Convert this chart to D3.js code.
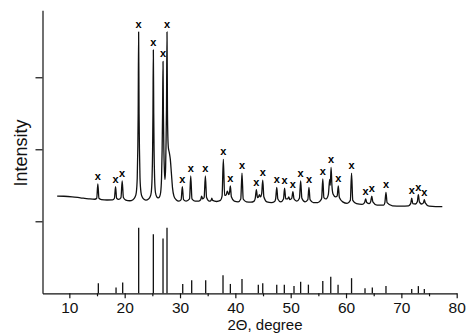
<!DOCTYPE html>
<html>
<head>
<meta charset="utf-8">
<script src="https://cdn.jsdelivr.net/npm/d3@7"></script>
<style>
  html, body { margin: 0; padding: 0; background: #fff; }
  svg { display: block; font-family: "Liberation Sans", Arial, sans-serif; }
</style>
</head>
<body>
<div id="chart"></div>
<script>
const trace = [
  [7.8,135],[9,134.8],[10.5,134],[12,132.6],[13.5,131.2],[14.6,130.6],
  [14.95,132],[15.15,152],[15.35,132],
  [15.8,130.2],[16.8,129.6],[17.8,129.8],
  [18.15,132],[18.35,148],[18.55,132],[18.9,130.5],
  [19.33,133],[19.55,156],[19.77,133],
  [20.2,129.5],[20.9,128.5],[21.5,130],[21.9,134],[22.1,140],[22.27,160],[22.37,200],[22.44,250],
  [22.52,363],[22.6,250],[22.67,200],[22.77,160],[22.95,140],[23.15,134],[23.5,130.5],[23.85,129.5],
  [24.3,131],[24.6,134],[24.8,140],[24.95,160],[25.05,200],[25.11,250],
  [25.18,338],[25.25,250],[25.31,200],[25.41,160],[25.56,140],[25.8,134],[26.05,132.5],
  [26.3,134],[26.5,140],[26.66,160],[26.77,200],[26.85,250],
  [26.93,322],[27.0,250],[27.08,200],[27.18,170],[27.29,158],[27.4,175],[27.48,210],[27.56,260],
  [27.65,363],[27.73,255],[27.8,218],[27.9,202],[28.05,196],[28.25,186],[28.45,166],[28.65,146],
  [28.9,135],[29.3,130],[29.8,128],
  [30.2,130],[30.42,148],[30.64,130],
  [31.1,128],[31.72,131],[31.94,163],[32.16,131],
  [32.7,128],[33.4,128],[33.75,130],[33.9,135],[34.1,131],
  [34.36,133],[34.58,163],[34.8,133],
  [35.3,128],[35.6,129],[35.75,132],[35.9,129],[36.6,127.5],
  [37.3,129],[37.6,135],[37.83,186],[38.06,136],
  [38.35,137],[38.55,142],[38.8,137],
  [38.95,140],[39.1,149],[39.28,134],
  [39.8,128],[40.5,127],
  [40.98,131],[41.2,167],[41.42,131],
  [42,127],[42.8,126.5],[43.4,128],
  [43.6,132],[43.8,144],[44.0,133],
  [44.2,134],[44.35,137],[44.55,134],
  [44.75,138],[44.95,157],[45.15,134],
  [45.7,127],[46.5,126],[47.1,127.5],
  [47.28,131],[47.48,147],[47.68,131],
  [48.2,127],[48.7,131],[48.9,146],[49.1,131],
  [49.45,131],[49.65,134],[49.85,130],
  [50.2,132],[50.4,141],[50.6,131],
  [51.1,128],[51.58,132],[51.8,156],[52.02,132],
  [52.6,127],[53.1,130],[53.3,147],[53.5,130],
  [54.1,126],[54.9,126],[55.5,130],[55.6,132],[55.8,159],[56.0,133],
  [56.4,131],[56.8,137],[57.05,158],[57.15,150],[57.3,175],[57.45,150],[57.65,138],
  [58.1,134],[58.4,135],[58.6,149],[58.8,133],
  [59.4,127],[60.2,125],[60.78,129],[61.0,167],[61.22,129],
  [61.9,124.5],[62.9,123.5],
  [63.35,126],[63.55,131],[63.75,126],
  [64.2,124.5],[64.45,127],[64.65,135],[64.85,127],
  [65.6,122.5],[66.8,122.5],[67.02,126],[67.22,140],[67.42,126],
  [68.4,121.5],[70,121],[71.3,121.5],
  [71.68,124.5],[71.87,132],[72.06,124.5],
  [72.55,124],[72.88,127],[73.07,137],[73.26,127],
  [73.65,124],[73.98,125.5],[74.15,130],[74.32,125.5],
  [75.0,121],[76.2,120.5],[77.4,120.5]
];

// peaks marked with "x"
const marked = [15.15,18.35,19.55,22.52,25.18,26.93,27.65,30.42,31.94,34.58,37.83,39.1,41.2,
  43.8,44.95,47.48,48.9,50.4,51.8,53.3,55.8,57.3,58.6,61.0,63.55,64.65,67.22,71.87,73.07,74.15];

// reference pattern (stick lines)
const refPos = [15.24,18.44,19.64,22.53,25.18,26.93,27.65,30.49,32.11,34.64,37.77,39.1,41.2,
  44.15,44.95,47.48,48.85,50.6,51.8,53.2,55.8,57.24,58.56,61.0,63.43,64.75,67.22,71.87,73.07,74.15];
const refInt = [14,8,15,91,82,76,91,13,18,18,25,13,20,
  12,14,12,12,10,16,12,17,23,12,21,7,8,10,6,10,6];

const majorTicks = [10,20,30,40,50,60,70,80];
const minorTicks = [15,25,35,45,55,65,75];
const yTicks = [100,200,300];

const W = 474, H = 333;

const x = d3.scaleLinear().domain([5.15, 80]).range([42.5, 456.7]);
const y = d3.scaleLinear().domain([0, 393]).range([293.3, 10.3]);

const svg = d3.select("#chart").append("svg")
  .attr("width", W)
  .attr("height", H);

// x axis, major ticks with labels
const xAxis = svg.append("g")
  .attr("transform", "translate(0," + y(0) + ")")
  .call(d3.axisBottom(x).tickValues(majorTicks).tickSize(5).tickSizeOuter(0).tickPadding(3.5));
xAxis.selectAll("text")
  .attr("fill", "#111")
  .style("font-size", "15.5px")
  .style("font-family", "'Liberation Sans', Arial, sans-serif");

// minor ticks at the fives
svg.append("g")
  .attr("transform", "translate(0," + y(0) + ")")
  .call(d3.axisBottom(x).tickValues(minorTicks).tickSize(3).tickSizeOuter(0).tickFormat(""))
  .select(".domain").remove();

// y axis, ticks only
svg.append("g")
  .attr("transform", "translate(" + x(5.15) + ",0)")
  .call(d3.axisLeft(y).tickValues(yTicks).tickSize(7).tickSizeOuter(0).tickFormat(""));

svg.selectAll(".domain, .tick line")
  .attr("stroke", "#111")
  .attr("stroke-width", 1.2);

// measured curve
const line = d3.line()
  .x(d => x(d[0]))
  .y(d => y(d[1]))
  .curve(d3.curveMonotoneX);

svg.append("path")
  .datum(trace)
  .attr("fill", "none")
  .attr("stroke", "#111")
  .attr("stroke-width", 1.3)
  .attr("stroke-linejoin", "round")
  .attr("d", line);

// x markers above peaks
const topOf = p => trace.find(d => d[0] === p)[1];
svg.selectAll("text.mark")
  .data(marked)
  .enter().append("text")
  .attr("class", "mark")
  .attr("x", d => x(d))
  .attr("y", d => y(topOf(d)) - 4)
  .attr("text-anchor", "middle")
  .attr("font-size", "11px")
  .attr("font-weight", "bold")
  .attr("fill", "#000")
  .text("x");

// reference sticks
svg.selectAll("line.stick")
  .data(refPos)
  .enter().append("line")
  .attr("class", "stick")
  .attr("x1", d => x(d))
  .attr("x2", d => x(d))
  .attr("y1", y(0))
  .attr("y2", (d, i) => y(refInt[i]))
  .attr("stroke", "#111")
  .attr("stroke-width", 1.3);

// axis titles
svg.append("text")
  .attr("x", 265)
  .attr("y", 329.7)
  .attr("text-anchor", "middle")
  .attr("font-size", "15px")
  .attr("fill", "#111")
  .text("2\u0398, degree");

svg.append("text")
  .attr("transform", "translate(27,153) rotate(-90)")
  .attr("text-anchor", "middle")
  .attr("font-size", "18px")
  .attr("fill", "#111")
  .text("Intensity");
</script>
</body>
</html>
